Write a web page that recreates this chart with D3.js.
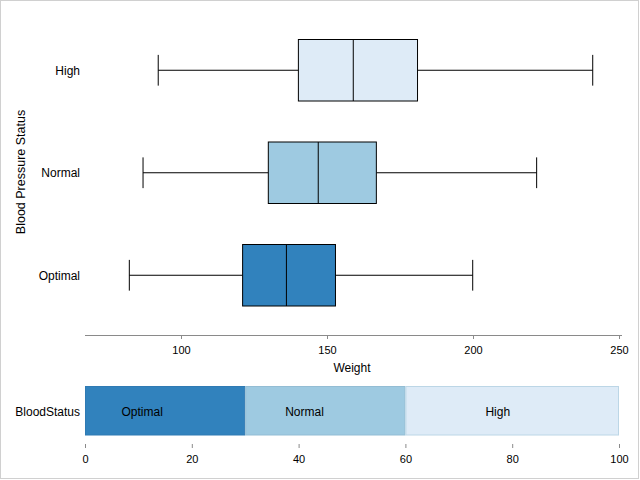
<!DOCTYPE html>
<html><head><meta charset="utf-8">
<script src="https://cdn.jsdelivr.net/npm/d3@7"></script>
<style>body{margin:0;background:#fff}svg{display:block;font-family:"Liberation Sans",Arial,sans-serif}</style>
</head><body><svg id="c" width="640" height="480"></svg>
<script>
const categories = ["High", "Normal", "Optimal"];
const whiskerLow = [92.2, 87.0, 82.3];
const q1 = [140.2, 129.9, 121.1];
const median = [159.0, 147.0, 136.1];
const q3 = [181.0, 166.9, 152.9];
const whiskerHigh = [241.0, 221.8, 199.9];
const fills = ["#deebf7", "#9ecae1", "#3182bd"];
const weightTicks = [100, 150, 200, 250];

const segNames = ["Optimal", "Normal", "High"];
const segStart = [0, 30, 60];
const segEnd = [30, 60, 100];
const segFills = ["#3182bd", "#9ecae1", "#deebf7"];
const segStroke = ["#2f7ab3", "#93bdd4", "#bcd6e6"];
const segLabelPos = [10.7, 41.1, 77.3];
const pctTicks = [0, 20, 40, 60, 80, 100];

const svg = d3.select("#c");
svg.append("rect").attr("x",0.5).attr("y",0.5).attr("width",638).attr("height",478)
  .attr("fill","none").attr("stroke","#d0d0d0");

const x = d3.scaleLinear().domain([100, 250]).range([181, 619]);
const y = d3.scaleBand().domain(categories).range([19, 326.5]).paddingInner(0.4).paddingOuter(0.2);

const axisY = 335;
svg.append("line").attr("x1", 85).attr("x2", 622).attr("y1", axisY+0.5).attr("y2", axisY+0.5)
  .attr("stroke", "#8a8a8a");
const xa = svg.append("g").attr("transform", `translate(0,${axisY})`)
  .call(d3.axisBottom(x).tickValues(weightTicks).tickSize(4));
xa.select(".domain").remove();
xa.selectAll(".tick line").attr("stroke", "#8a8a8a");
xa.selectAll(".tick text").attr("font-size", 11).attr("font-family", "Liberation Sans").attr("fill", "#000")
  .attr("y", 18.7).attr("dy", 0);
svg.append("text").attr("x", 352).attr("y", 372).attr("text-anchor", "middle")
  .attr("font-size", 12).text("Weight");

categories.forEach((c, i) => {
  svg.append("text").attr("x", 80).attr("y", y(c) + y.bandwidth()/2 + 4.5)
    .attr("text-anchor", "end").attr("font-size", 12).text(c);
});
svg.append("text").attr("transform", "translate(24.5,172) rotate(-90)")
  .attr("text-anchor", "middle").attr("font-size", 12.5).text("Blood Pressure Status");

categories.forEach((c, i) => {
  const top = y(c), bw = y.bandwidth(), cy = top + bw/2;
  const g = svg.append("g").attr("stroke", "#000").attr("stroke-width", 1);
  g.append("line").attr("x1", x(whiskerLow[i])).attr("x2", x(q1[i])).attr("y1", cy).attr("y2", cy);
  g.append("line").attr("x1", x(q3[i])).attr("x2", x(whiskerHigh[i])).attr("y1", cy).attr("y2", cy);
  g.append("line").attr("x1", x(whiskerLow[i])).attr("x2", x(whiskerLow[i])).attr("y1", cy - bw/4).attr("y2", cy + bw/4);
  g.append("line").attr("x1", x(whiskerHigh[i])).attr("x2", x(whiskerHigh[i])).attr("y1", cy - bw/4).attr("y2", cy + bw/4);
  g.append("rect").attr("x", x(q1[i])).attr("y", top).attr("width", x(q3[i]) - x(q1[i]))
    .attr("height", bw).attr("fill", fills[i]);
  g.append("line").attr("x1", x(median[i])).attr("x2", x(median[i])).attr("y1", top).attr("y2", top + bw);
});

const px = d3.scaleLinear().domain([0, 100]).range([85, 619]);
const barTop = 386, barH = 48.5;
segNames.forEach((n, i) => {
  svg.append("rect").attr("x", px(segStart[i]) + 0.5).attr("y", barTop + 0.5)
    .attr("width", px(segEnd[i]) - px(segStart[i]) - 1).attr("height", barH)
    .attr("fill", segFills[i]).attr("stroke", segStroke[i]);
  svg.append("text").attr("x", px(segLabelPos[i])).attr("y", 415.5)
    .attr("text-anchor", "middle").attr("font-size", 12).text(n);
});
svg.append("text").attr("x", 80).attr("y", 415.5).attr("text-anchor", "end")
  .attr("font-size", 12).text("BloodStatus");
const pa = svg.append("g").attr("transform", "translate(0,444)")
  .call(d3.axisBottom(px).tickValues(pctTicks).tickSize(4));
pa.select(".domain").remove();
pa.selectAll(".tick line").attr("stroke", "#8a8a8a");
pa.selectAll(".tick text").attr("font-size", 11).attr("font-family", "Liberation Sans").attr("fill", "#000")
  .attr("y", 18.7).attr("dy", 0);
</script></body></html>
